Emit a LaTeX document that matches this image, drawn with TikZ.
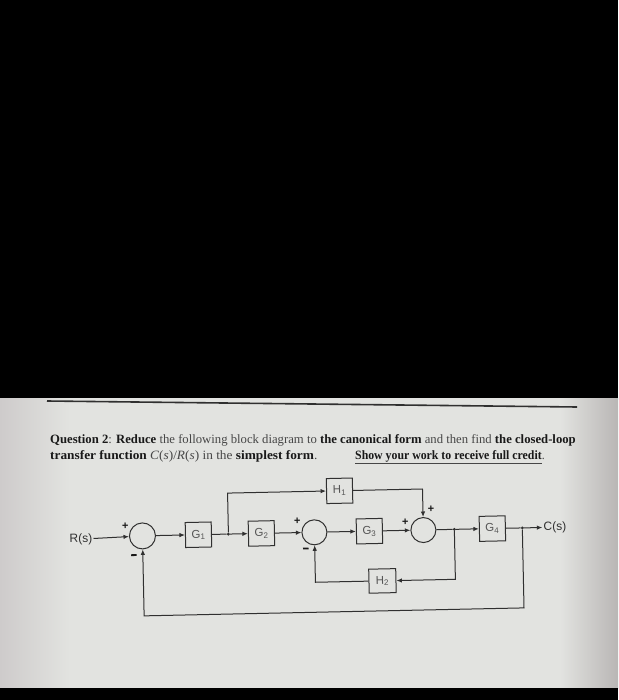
\documentclass[tikz,border=0pt]{standalone}
\usepackage{fontspec}
\setmainfont{Liberation Serif}
\newfontfamily\diagfont{Liberation Sans}
\usetikzlibrary{arrows.meta,calc}
\definecolor{paper}{RGB}{226,227,224}
\definecolor{paperL}{RGB}{206,203,203}
\definecolor{paperR}{RGB}{185,182,181}
\definecolor{ink}{RGB}{48,48,48}
\definecolor{lbl}{RGB}{85,85,85}
\definecolor{txtb}{RGB}{25,25,25}
\definecolor{txtr}{RGB}{70,70,70}
\tikzset{
  arr/.style={-{Latex[length=5.5pt,width=4.5pt]}},
  wire/.style={draw=ink,line width=1pt},
  blk/.style={draw=ink,line width=1pt,fill=paper,minimum width=26pt,minimum height=25pt,inner sep=0pt,font=\diagfont\fontsize{11.5}{13}\selectfont,text=lbl},
  sumc/.style={draw=ink,line width=1pt,circle,minimum size=26pt,inner sep=0pt},
  sgn/.style={font=\diagfont\bfseries\fontsize{11}{11}\selectfont,text=txtb,inner sep=0pt},
  io/.style={font=\diagfont\fontsize{12}{14}\selectfont,text=ink,inner sep=1pt},
  dot/.style={circle,fill=ink,inner sep=0pt,minimum size=3.2pt},
  qtxt/.style={anchor=base west,inner sep=0pt,font=\fontsize{12.7}{16}\selectfont}
}
\newcommand{\minussign}{\textcolor{txtb}{\rule[0pt]{5.5pt}{1.8pt}}}
\begin{document}
\begin{tikzpicture}[x=1pt,y=-1pt]
\useasboundingbox (0,0) rectangle (618,700);
\fill[black] (0,0) rectangle (618,700);
\fill[paper] (0,398) rectangle (618,688);
\shade[left color=paperL,right color=paper] (0,398) rectangle (70,688);
\shade[left color=paper,right color=paperR] (560,398) rectangle (618,688);
\fill[black] (0,688) rectangle (618,700);
\fill[black] (0,0) rectangle (618,398);
\draw[ink,line width=1.6pt] (47,401) -- (577,407);
% question text
\node[qtxt] (q1) at (50,443)
  {\textcolor{txtb}{\bfseries Question 2}\textcolor{txtr}{:} \textcolor{txtb}{\bfseries Reduce} \textcolor{txtr}{the following block diagram to} \textcolor{txtb}{\bfseries the canonical form} \textcolor{txtr}{and then find} \textcolor{txtb}{\bfseries the closed-loop}};
\node[qtxt] (q2) at (50,459)
  {\scalebox{1.05}[1]{\textcolor{txtb}{\bfseries transfer function} \textcolor{txtr}{\textit{C}(\textit{s})/\textit{R}(\textit{s}) in the} \textcolor{txtb}{\bfseries simplest form}\textcolor{txtr}{.}}};
\node[qtxt] (q3) at (355,459)
  {\scalebox{0.93}[1]{\textcolor{txtb}{\bfseries Show your work to receive full credit}\textcolor{txtr}{.}}};
\draw[txtr,line width=0.7pt] ($(q3.base west)+(0,4)$) -- ($(q3.base east)+(-3,4)$);
% diagram
\begin{scope}[rotate around={1.2:(330,560)},transform shape]
\node[io,anchor=east] (rs) at (94,534) {R(s)};
\node[sumc] (s1) at (143,532) {};
\node[blk] (g1) at (199,532) {G\textsubscript{1}};
\node[dot] (b1) at (229,532) {};
\node[blk] (g2) at (262,532) {G\textsubscript{2}};
\node[sumc,minimum size=25pt] (s2) at (315,532) {};
\node[blk] (h1) at (341,491) {H\textsubscript{1}};
\node[blk] (g3) at (370,532) {G\textsubscript{3}};
\node[sumc,minimum size=25pt] (s3) at (424,532) {};
\node[dot] (b2) at (455,532) {};
\node[blk] (g4) at (493,532) {G\textsubscript{4}};
\node[dot] (b3) at (523,532) {};
\node[io,anchor=west] (cs) at (543,532) {C(s)};
\node[blk,minimum width=27pt,minimum height=24pt] (h2) at (382,582) {H\textsubscript{2}};
\coordinate (bot) at (523,612);
% signs
\node[sgn] (p1) at (126,522) {+};
\node[sgn] (m1) at (134,551) {\minussign};
\node[sgn] (p2) at (298,521) {+};
\node[sgn] (m2) at (306,548) {\minussign};
\node[sgn] (p3) at (432,511) {+};
\node[sgn] (p4) at (406,524) {+};
% connectors
\draw[wire,arr] (rs) -- (s1);
\draw[wire,arr] (s1) -- (g1);
\draw[wire] (g1) -- (b1);
\draw[wire,arr] (b1) -- (g2);
\draw[wire,arr] (g2) -- (s2);
\draw[wire,arr] (b1) |- (h1);
\draw[wire,arr] (h1) -| (s3);
\draw[wire,arr] (s2) -- (g3);
\draw[wire,arr] (g3) -- (s3);
\draw[wire] (s3) -- (b2);
\draw[wire,arr] (b2) -- (g4);
\draw[wire] (g4) -- (b3);
\draw[wire,arr] (b3) -- (cs);
\draw[wire,arr] (b2) |- (h2);
\draw[wire,arr] (h2) -| (s2);
\draw[wire,arr] (b3) -- (bot) -| (s1);
\end{scope}
\end{tikzpicture}
\end{document}
